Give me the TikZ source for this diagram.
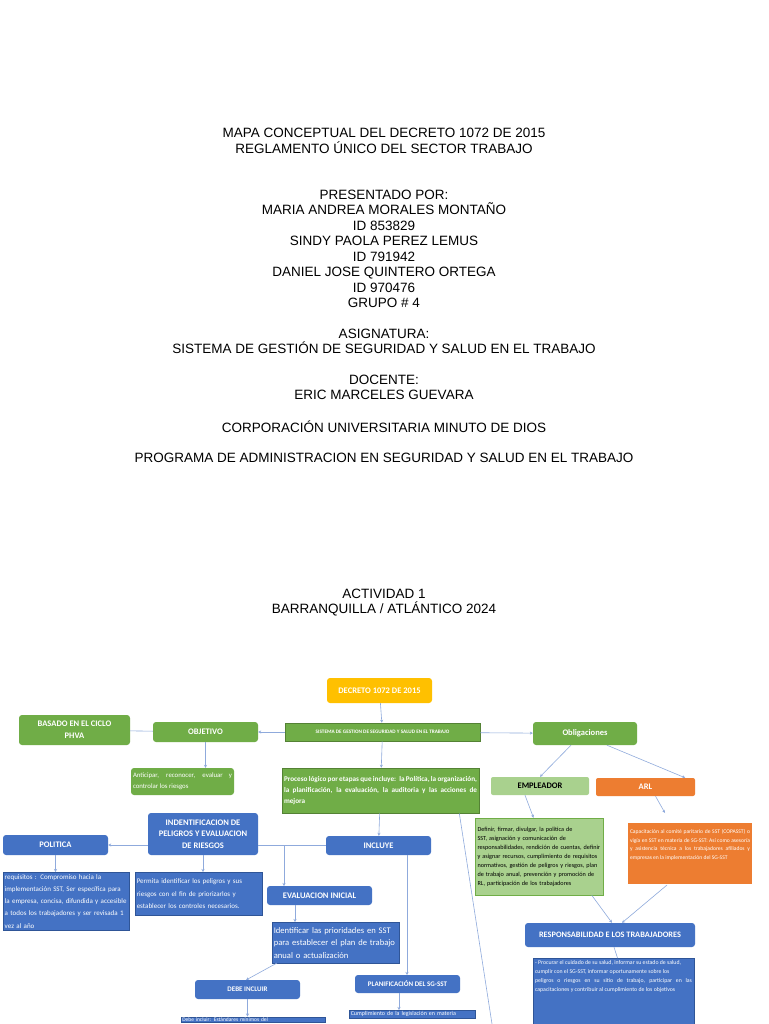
\documentclass[tikz,border=0pt]{standalone}
\usepackage{fontspec}
\setmainfont{Liberation Sans}
\newfontfamily\calfont{Carlito}
\usetikzlibrary{arrows.meta}
\hyphenpenalty=10000
\exhyphenpenalty=10000
\definecolor{gr}{HTML}{70AD47}
\definecolor{grd}{HTML}{548235}
\definecolor{lg}{HTML}{A9D18E}
\definecolor{yl}{HTML}{FFC000}
\definecolor{or}{HTML}{ED7D31}
\definecolor{bl}{HTML}{4472C4}
\definecolor{bld}{HTML}{2F5597}
\definecolor{ln}{HTML}{8FAADC}
\tikzset{
 base/.style={inner sep=2pt,align=center,font=\calfont\bfseries\fontsize{8.5}{10}\selectfont,text=white},
 gbox/.style={base,fill=gr,rounded corners=3pt},
 gsq/.style={base,fill=gr,draw=grd,line width=0.6pt},
 bbox/.style={base,fill=bl,rounded corners=3pt},
 bsq/.style={base,fill=bl,draw=bld,line width=0.5pt,align=left,font=\calfont\fontsize{7.5}{12.5}\selectfont},
 con/.style={draw=ln,line width=0.6pt,-{Stealth[length=3pt,width=3pt]}},
 lin/.style={draw=ln,line width=0.6pt},
 ttl/.style={font=\fontsize{13.5}{15.5}\selectfont,align=center}
}
\begin{document}
\begin{tikzpicture}[x=1pt,y=-1pt]
\clip (0,0) rectangle (768,1024);
\fill[white] (0,0) rectangle (768,1024);
\node[ttl] (t1) at (384,141) {MAPA CONCEPTUAL DEL DECRETO 1072 DE 2015\\REGLAMENTO ÚNICO DEL SECTOR TRABAJO};
\node[ttl] (t2) at (384,249) {PRESENTADO POR:\\MARIA ANDREA MORALES MONTAÑO\\ID 853829\\SINDY PAOLA PEREZ LEMUS\\ID 791942\\DANIEL JOSE QUINTERO ORTEGA\\ID 970476\\GRUPO \# 4};
\node[ttl] (t3) at (384,341.5) {ASIGNATURA:\\SISTEMA DE GESTIÓN DE SEGURIDAD Y SALUD EN EL TRABAJO};
\node[ttl] (t4) at (384,387.5) {DOCENTE:\\ERIC MARCELES GUEVARA};
\node[ttl] (t5) at (384,427) {CORPORACIÓN UNIVERSITARIA MINUTO DE DIOS};
\node[ttl] (t6) at (384,458) {PROGRAMA DE ADMINISTRACION EN SEGURIDAD Y SALUD EN EL TRABAJO};
\node[ttl] (t7) at (384,602.5) {ACTIVIDAD 1\\BARRANQUILLA / ATLÁNTICO 2024};

\node[base,fill=yl,rounded corners=3pt,minimum width=105,minimum height=25] (dec) at (379.5,690.5) {DECRETO 1072 DE 2015};
\node[gsq,minimum width=195,minimum height=18,font=\calfont\bfseries\fontsize{5.2}{6}\selectfont] (sis) at (382.5,732) {SISTEMA DE GESTION DE SEGURIDAD Y SALUD EN EL TRABAJO};
\node[gbox,minimum width=105,minimum height=20] (obj) at (205.5,732) {OBJETIVO};
\node[gbox,minimum width=111,minimum height=30,font=\calfont\bfseries\fontsize{8.5}{12}\selectfont] (bas) at (74.5,730) {BASADO EN EL CICLO\\PHVA};
\node[gbox,text width=99,minimum height=27,align=justify,font=\calfont\fontsize{6.8}{11}\selectfont] (ant) at (182.5,781.5) {Anticipar, reconocer, evaluar y controlar los riesgos};
\node[gsq,text width=193,minimum height=45,align=justify,font=\calfont\bfseries\fontsize{7.2}{11}\selectfont] (pro) at (380.5,790.5) {Proceso lógico por etapas que incluye: \ la Política, la organización, la planificación, la evaluación, la auditoria y las acciones de mejora};
\node[gbox,minimum width=104,minimum height=23,font=\calfont\bfseries\fontsize{8.5}{10}\selectfont] (obl) at (585,733.5) {Obligaciones};
\node[base,fill=lg,rounded corners=2pt,text=black,minimum width=98,minimum height=18] (emp) at (540,786) {EMPLEADOR};
\node[base,fill=or,rounded corners=2pt,minimum width=99,minimum height=18] (arl) at (645.5,787) {ARL};
\node[base,fill=lg,draw=gr,line width=0.5pt,text=black,text width=124,minimum height=77,align=left,font=\calfont\fontsize{6.2}{9}\selectfont] (def) at (539.5,856.5) {Definir, firmar, divulgar, la política de SST, asignación y comunicación de responsabilidades, rendición de cuentas, definir y asignar recursos, cumplimiento de requisitos normativos, gestión de peligros y riesgos, plan de trabajo anual, prevención y promoción de RL, participación de los trabajadores};
\node[base,fill=or,text width=120,minimum height=61,align=justify,anchor=north,font=\calfont\fontsize{5.6}{8.5}\selectfont] (cap) at (690,823) {Capacitación al comité paritario de SST (COPASST) o vigía en SST en materia de SG-SST: Así como asesoría y asistencia técnica a los trabajadores afiliados y empresas en la implementación del SG-SST\\[10pt]};
\node[bbox,minimum width=170,minimum height=24,font=\calfont\bfseries\fontsize{8.3}{10}\selectfont] (res) at (610,935) {RESPONSABILIDAD E LOS TRABAJADORES};
\node[bsq,anchor=north,text width=157,align=justify,font=\calfont\fontsize{5.8}{9}\selectfont] (prc) at (613.5,958) {- Procurar el cuidado de su salud, informar su estado de salud,\\ cumplir con el SG-SST, informar oportunamente sobre los\\ peligros o riesgos en su sitio de trabajo, participar en las capacitaciones y contribuir al cumplimiento de los objetivos\\[30pt]};

\node[bbox,minimum width=110,minimum height=42,font=\calfont\bfseries\fontsize{8.5}{11.5}\selectfont] (ide) at (203,834) {INDENTIFICACION DE\\PELIGROS Y EVALUACION\\DE RIESGOS};
\node[bbox,minimum width=105,minimum height=20] (pol) at (55.5,845) {POLITICA};
\node[bsq,anchor=north west,text width=123,minimum height=58,font=\calfont\fontsize{7}{12.3}\selectfont,inner sep=1.5pt] (req) at (3,872) {requisitos : Compromiso hacia la implementación SST, Ser específica para la empresa, concisa, difundida y accesible a todos los trabajadores y ser revisada 1 vez al año};
\node[bsq,anchor=north west,text width=124,minimum height=43,font=\calfont\fontsize{7}{12.3}\selectfont,inner sep=1.5pt] (per) at (135,872) {Permita identificar los peligros y sus riesgos con el fin de priorizarlos y establecer los controles necesarios.};
\node[bbox,minimum width=105,minimum height=19] (inc) at (378.5,845.5) {INCLUYE};
\node[bbox,minimum width=105,minimum height=19] (eva) at (319.5,895.5) {EVALUACION INICIAL};
\node[bsq,anchor=north west,text width=124,minimum height=41,font=\calfont\fontsize{8.6}{12.5}\selectfont,inner sep=1.5pt] (idt) at (272,922) {Identificar las prioridades en SST para establecer el plan de trabajo anual o actualización};
\node[bbox,minimum width=105,minimum height=19,font=\calfont\bfseries\fontsize{7}{8}\selectfont] (dbi) at (247.5,989.5) {DEBE INCLUIR};
\node[bbox,minimum width=105,minimum height=18,font=\calfont\bfseries\fontsize{7}{8}\selectfont] (pla) at (407.5,984) {PLANIFICACIÓN DEL SG-SST};
\node[bsq,anchor=north west,text width=142,inner sep=1pt,font=\calfont\fontsize{5.5}{7}\selectfont] (dbt) at (181,1016.5) {Debe incluir: Estándares mínimos del\\[6pt]};
\node[bsq,anchor=north west,text width=123,inner sep=1.5pt,font=\calfont\fontsize{6}{8}\selectfont] (cum) at (349,1010) {Cumplimiento de la legislación en materia\\[10pt]};
\coordinate (off) at (492,1024);

\draw[con] (dec) -- (sis);
\draw[con] (sis) -- (obj);
\draw[lin] (obj) -- (bas);
\draw[con] (obj.south) -- (obj.south |- ant.north);
\draw[con] (sis) -- (pro);
\draw[con] (pro) -- (inc);
\draw[con] (sis) -- (obl);
\draw[con] ([xshift=-14pt]obl.south) -- (emp.north);
\draw[con] ([xshift=22pt]obl.south) -- ([xshift=-10pt]arl.north east);
\draw[con] ([xshift=-15pt]emp.south) -- ([xshift=-6pt]def.north);
\draw[con] ([xshift=10pt]arl.south) -- (665,813);
\draw[con] ([xshift=-12pt]def.south east) -- ([xshift=2pt]res.north);
\draw[con] (667,885) -- ([xshift=12pt]res.north);
\draw[lin] ([xshift=4pt]res.south) -- ([xshift=4pt]prc.north);
\draw[lin] ([xshift=-20pt]pro.south east) -- (off);
\draw[lin] (inc.west) -- (ide.east |- inc.west);
\draw[con] (ide.west |- pol.east) -- (pol.east);
\draw[con] (pol.south) -- (pol.south |- req.north);
\draw[con] (ide.south) -- (ide.south |- per.north);
\draw[con] (284,845.5) -- (284,886);
\draw[con] (295,905) -- (295,922);
\draw[con] (277,963) -- (246,980);
\draw[con] (dbi) -- (dbi.south |- dbt.north);
\draw[con] (407,855) -- (407,975);
\draw[con] (399,993) -- (399,1010);
\end{tikzpicture}
\end{document}
